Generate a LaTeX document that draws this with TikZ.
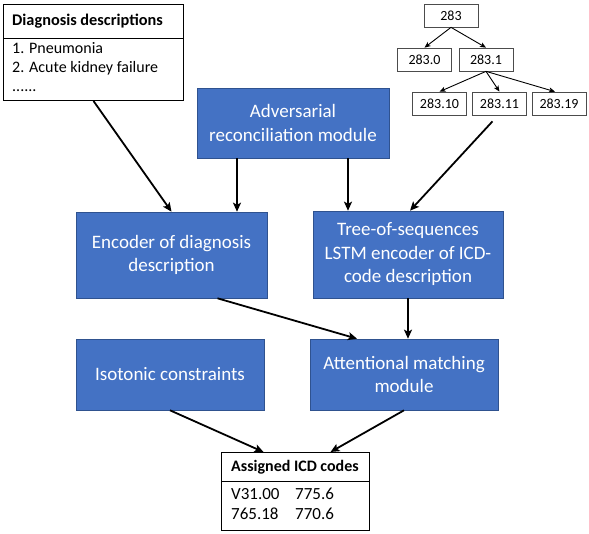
\documentclass[tikz,border=0pt]{standalone}
\usepackage{fontspec}
\setmainfont{Carlito}
\usetikzlibrary{arrows.meta,calc}
\definecolor{boxblue}{HTML}{4472C4}
\definecolor{boxedge}{HTML}{2F528F}
\begin{document}
\begin{tikzpicture}[x=1pt,y=-1pt,
  bluebox/.style={rectangle,fill=boxblue,draw=boxedge,line width=0.6pt,text=white,
    font=\fontsize{19}{23.5}\selectfont,align=center,inner sep=0pt},
  codebox/.style={rectangle,draw=black!70,line width=0.7pt,fill=white,
    font=\fontsize{14}{16}\selectfont,minimum width=54pt,minimum height=23pt,inner sep=0pt},
  bigarrow/.style={line width=1.8pt,-{Stealth[length=9pt,width=8pt,inset=2pt]}},
  smallarrow/.style={line width=0.9pt,-{Stealth[length=6pt,width=5pt,inset=1.5pt]}},
  framebox/.style={rectangle,draw=black,line width=1pt,inner sep=0pt}
]
\useasboundingbox (0,0) rectangle (589,533);

% Diagnosis descriptions box
\node[framebox,minimum width=180pt,minimum height=96pt,anchor=north west] (dd) at (3,4) {};
\draw[line width=1pt] (dd.west |- 0,38) -- (dd.east |- 0,38);
\node[anchor=west,inner sep=0pt,font=\fontsize{16.3}{19}\selectfont\bfseries] (ddh) at (12,21) {Diagnosis descriptions};
\node[anchor=north west,inner sep=0pt,align=left,font=\fontsize{16}{19}\selectfont] (ddb) at (12,42)
  {1. Pneumonia\\2. Acute kidney failure\\......};

% Tree of codes
\node[codebox] (t283) at (451,15.5) {283};
\node[codebox] (t0) at (424.5,59.5) {283.0};
\node[codebox] (t1) at (486,59.5) {283.1};
\node[codebox] (t10) at (439.5,103.5) {283.10};
\node[codebox] (t11) at (499.5,103.5) {283.11};
\node[codebox] (t19) at (559,103.5) {283.19};
\draw[smallarrow] (t283.south) -- (t0.north);
\draw[smallarrow] (t283.south) -- (t1.north);
\draw[smallarrow] (t1.south) -- (t10.north);
\draw[smallarrow] (t1.south) -- (t11.north);
\draw[smallarrow] (t1.south) -- ([xshift=-4pt]t19.north);

% Blue modules
\node[bluebox,minimum width=192pt,minimum height=70pt] (adv) at (293,123)
  {Adversarial\\reconciliation module};
\node[bluebox,minimum width=191pt,minimum height=86pt] (enc) at (171.5,255)
  {Encoder of diagnosis\\description};
\node[bluebox,minimum width=190pt,minimum height=87pt] (tree) at (408,254.5)
  {Tree-of-sequences\\LSTM encoder of ICD-\\code description};
\node[bluebox,minimum width=188pt,minimum height=71pt] (iso) at (170,374.5)
  {Isotonic constraints};
\node[bluebox,minimum width=188pt,minimum height=71pt] (att) at (404,374.5)
  {Attentional matching\\module};

% Assigned ICD codes box
\node[framebox,minimum width=148pt,minimum height=78pt,anchor=north west] (codes) at (221,452) {};
\draw[line width=1pt] (codes.west |- 0,481) -- (codes.east |- 0,481);
\node[anchor=west,inner sep=0pt,font=\fontsize{16}{19}\selectfont\bfseries] (codesh) at (231,467) {Assigned ICD codes};
\node[anchor=north west,inner sep=0pt,align=left,font=\fontsize{17}{19.5}\selectfont] (codesb) at (231,488)
  {\makebox[64pt][l]{V31.00}775.6\\\makebox[64pt][l]{765.18}770.6};

% Arrows
\draw[bigarrow] (dd.south) -- (enc.north);
\draw[bigarrow] ([xshift=-56pt]adv.south) -- ([xshift=-56pt]adv.south |- enc.north);
\draw[bigarrow] ([xshift=55pt]adv.south) -- ([xshift=55pt]adv.south |- tree.north);
\draw[bigarrow] ([xshift=-7pt,yshift=-6pt]t11.south) -- ([xshift=2pt]tree.north);
\draw[bigarrow] ([xshift=46pt]enc.south) -- ([xshift=-47pt]att.north);
\draw[bigarrow] (tree.south) -- (tree.south |- att.north);
\draw[bigarrow] (iso.south) -- ([xshift=-32pt]codes.north);
\draw[bigarrow] (att.south) -- ([xshift=35pt]codes.north);
\end{tikzpicture}
\end{document}
